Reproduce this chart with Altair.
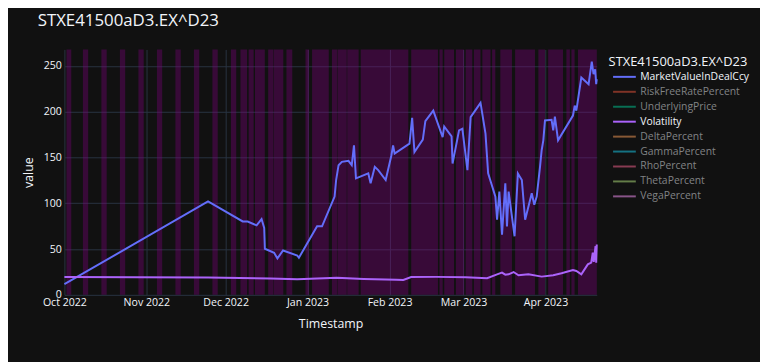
import altair as alt
import pandas as pd

TITLE = "STXE41500aD3.EX^D23"

series_names = ["MarketValueInDealCcy", "RiskFreeRatePercent", "UnderlyingPrice", "Volatility",
                "DeltaPercent", "GammaPercent", "RhoPercent", "ThetaPercent", "VegaPercent"]
series_colors = ["#636efa", "#EF553B", "#00cc96", "#ab63fa", "#FFA15A",
                 "#19d3f3", "#FF6692", "#B6E880", "#FF97FF"]
visible_series = ["MarketValueInDealCcy", "Volatility"]

mv_time = [
    "2022-10-01T00:00", "2022-11-24T08:00", "2022-12-07T11:00", "2022-12-09T08:00", "2022-12-12T17:00",
    "2022-12-14T14:00", "2022-12-15T14:00", "2022-12-15T20:00", "2022-12-19T08:00", "2022-12-20T14:00",
    "2022-12-22T17:00", "2022-12-28T02:00", "2022-12-28T17:00", "2023-01-04T14:00", "2023-01-06T11:00",
    "2023-01-11T05:00", "2023-01-11T19:00", "2023-01-12T17:00", "2023-01-13T23:00", "2023-01-16T11:00",
    "2023-01-17T17:00", "2023-01-18T13:00", "2023-01-19T07:00", "2023-01-23T23:00", "2023-01-24T20:00",
    "2023-01-26T10:00", "2023-01-27T17:00", "2023-01-30T13:00", "2023-02-01T17:00", "2023-02-02T08:00",
    "2023-02-02T22:00", "2023-02-08T13:00", "2023-02-09T13:00", "2023-02-10T10:00", "2023-02-13T14:00",
    "2023-02-14T13:00", "2023-02-17T13:00", "2023-02-21T02:00", "2023-02-21T16:00", "2023-02-24T11:00",
    "2023-02-24T20:00", "2023-02-27T07:00", "2023-02-28T13:00", "2023-03-02T11:00", "2023-03-03T16:00",
    "2023-03-07T10:00", "2023-03-09T07:00", "2023-03-10T07:00", "2023-03-13T01:00", "2023-03-13T16:00",
    "2023-03-14T13:00", "2023-03-15T13:00", "2023-03-16T19:00", "2023-03-17T10:00", "2023-03-18T01:00",
    "2023-03-20T07:00", "2023-03-21T13:00", "2023-03-23T01:00", "2023-03-24T07:00", "2023-03-26T19:00",
    "2023-03-27T18:00", "2023-03-28T16:00", "2023-03-29T22:00", "2023-03-30T13:00", "2023-03-31T04:00",
    "2023-03-31T19:00", "2023-04-03T07:00", "2023-04-03T22:00", "2023-04-04T13:00", "2023-04-05T18:00",
    "2023-04-11T09:00", "2023-04-12T01:00", "2023-04-12T16:00", "2023-04-14T13:00", "2023-04-17T07:00",
    "2023-04-18T12:00", "2023-04-19T04:00", "2023-04-19T19:00", "2023-04-20T04:00", "2023-04-20T09:00",
]
mv_value = [
    11.6, 102.0, 80.2, 80.0, 75.9,
    82.8, 73.0, 50.3, 45.9, 39.8,
    48.4, 43.0, 40.5, 74.8, 74.8,
    107.3, 125.4, 141.6, 145.2, 146.3,
    141.6, 163.3, 127.2, 132.6, 121.8,
    139.8, 136.2, 125.4, 152.5, 163.3,
    154.3, 165.2, 193.3, 156.0, 169.5,
    189.6, 201.2, 172.3, 183.9, 173.1,
    143.5, 179.6, 181.4, 136.2, 194.0,
    209.6, 176.0, 132.6, 107.3, 82.0,
    112.7, 65.8, 121.8, 74.8, 112.7,
    63.9, 132.6, 125.4, 82.0, 111.0,
    98.3, 107.3, 139.8, 157.9, 168.7,
    190.4, 191.2, 179.6, 194.7, 168.7,
    195.8, 206.6, 201.2, 237.3, 230.1,
    254.6, 241.0, 246.4, 230.1, 235.6,
]

vol_time = [
    "2022-10-01T00:00", "2022-11-24T08:00", "2022-12-17T23:00", "2022-12-28T02:00", "2023-01-12T02:00",
    "2023-01-22T05:00", "2023-02-03T13:00", "2023-02-06T05:00", "2023-02-09T04:00", "2023-02-18T13:00",
    "2023-03-01T19:00", "2023-03-09T22:00", "2023-03-13T16:00", "2023-03-15T13:00", "2023-03-16T19:00",
    "2023-03-18T01:00", "2023-03-19T22:00", "2023-03-21T19:00", "2023-03-25T13:00", "2023-03-30T13:00",
    "2023-04-03T22:00", "2023-04-07T01:00", "2023-04-11T09:00", "2023-04-12T16:00", "2023-04-14T13:00",
    "2023-04-17T00:00", "2023-04-18T07:00", "2023-04-18T21:00", "2023-04-19T06:00", "2023-04-19T22:00",
    "2023-04-20T04:00", "2023-04-20T09:00",
]
vol_value = [
    19.5, 19.0, 17.8, 17.0, 18.6,
    17.4, 16.5, 16.3, 19.4, 19.6,
    19.3, 18.1, 22.4, 24.3, 22.0,
    22.4, 24.9, 21.3, 22.4, 19.9,
    21.3, 23.5, 27.1, 26.0, 22.4,
    33.3, 35.1, 46.0, 36.0, 53.1,
    35.1, 54.9,
]

# shaded periods, in days after 2022-10-01 00:00 UTC
band_origin = "2022-10-01T00:00:00Z"
band_start_day = [
    0.8, 7, 14, 21, 28, 35, 42, 49, 56, 63,
    66.6, 69.7, 72.1, 77.1, 79.3, 84.0, 91.2, 93.7, 101.2, 103.3,
    107.0, 112.1, 131.2, 141.9, 143.7, 148.1, 151.8, 154.9, 158.1, 161.8,
    164.9, 170.5, 179.3, 183.0, 189.9, 191.8, 194.3,
]
band_end_day = [
    2.6, 9, 16, 23, 30, 37, 44, 51, 58, 65,
    69.1, 71.6, 75.8, 79.1, 82.8, 86.2, 92.5, 100.0, 103.1, 106.8,
    111.3, 130.1, 141.3, 143.1, 147.4, 151.2, 154.3, 157.4, 161.2, 163.0,
    169.3, 178.0, 181.8, 188.6, 191.2, 193.0, 201.4,
]

y_ticks = [0, 50, 100, 150, 200, 250]

lines_df = pd.concat([
    pd.DataFrame({"Timestamp": [t + ":00Z" for t in mv_time], "value": mv_value,
                  "series": "MarketValueInDealCcy"}),
    pd.DataFrame({"Timestamp": [t + ":00Z" for t in vol_time], "value": vol_value,
                  "series": "Volatility"}),
], ignore_index=True)
origin = pd.Timestamp(band_origin)
bands_df = pd.DataFrame({
    "start": [(origin + pd.to_timedelta(d, unit="D")).strftime("%Y-%m-%dT%H:%M:%SZ") for d in band_start_day],
    "end": [(origin + pd.to_timedelta(d, unit="D")).strftime("%Y-%m-%dT%H:%M:%SZ") for d in band_end_day],
})

x_scale = alt.Scale(type="utc", domain=[
    alt.DateTime(year=2022, month=10, date=1, utc=True),
    alt.DateTime(year=2023, month=4, date=20, hours=9, utc=True)], nice=False)
x_axis = alt.Axis(title="Timestamp", labelExpr="utcFormat(datum.value, '%b %Y')",
                  tickCount={"interval": "month", "step": 1}, labelFlush=False,
                  labelPadding=3, titlePadding=10)

bands = alt.Chart(bands_df).mark_rect(color="#800080", opacity=0.36).encode(
    x=alt.X("start:T", scale=x_scale, axis=x_axis),
    x2="end:T",
)

vis_list = "[" + ",".join("'" + s + "'" for s in visible_series) + "]"
is_vis = "indexof(" + vis_list + ", datum.value) >= 0"

lines = alt.Chart(lines_df).mark_line(strokeWidth=2).encode(
    x=alt.X("Timestamp:T", scale=x_scale, axis=x_axis),
    y=alt.Y("value:Q", scale=alt.Scale(domain=[0, 268], nice=False, zero=True),
            axis=alt.Axis(values=y_ticks, title="value", labelPadding=3, titlePadding=8)),
    color=alt.Color("series:N", sort=series_names,
                    scale=alt.Scale(domain=series_names, range=series_colors),
                    legend=alt.Legend(
                        title=TITLE, orient="none", legendX=550, legendY=6.5,
                        symbolType="M-2,0H2", symbolSize=132, symbolStrokeWidth=2,
                        symbolOffset=9, labelOffset=9, rowPadding=2.1,
                        titlePadding=1.2, padding=0,
                        labelFontSize=10.5, titleFontSize=13,
                        labelColor=alt.ExprRef(is_vis + " ? '#f2f5fa' : '#818385'"),
                        symbolOpacity=alt.ExprRef(is_vis + " ? 1 : 0.5"),
                    )),
    order=alt.Order("Timestamp:T"),
)

chart = alt.layer(bands, lines).properties(
    width=538, height=248,
    title=alt.Title(TITLE, anchor="start", frame="group", dx=-27, offset=7, fontSize=17,
                    font="Open Sans", fontWeight="normal", color="#f2f5fa", baseline="alphabetic"),
    autosize=alt.AutoSizeParams(type="none"),
    padding={"left": 57, "top": 40, "right": 165, "bottom": 66},
    background="#111111",
).configure_view(stroke=None).configure_axis(
    gridColor="#283442", gridWidth=1, domain=False, ticks=False,
    labelColor="#f2f5fa", labelFont="Open Sans", labelFontSize=10.7,
    titleColor="#f2f5fa", titleFont="Open Sans", titleFontSize=12.5, titleFontWeight="normal",
).configure_legend(
    labelFont="Open Sans", titleColor="#f2f5fa",
    titleFont="Open Sans", titleFontWeight="normal", symbolFillColor="transparent",
)

chart.save("out.html", embed_options={"renderer": "svg", "actions": False})
